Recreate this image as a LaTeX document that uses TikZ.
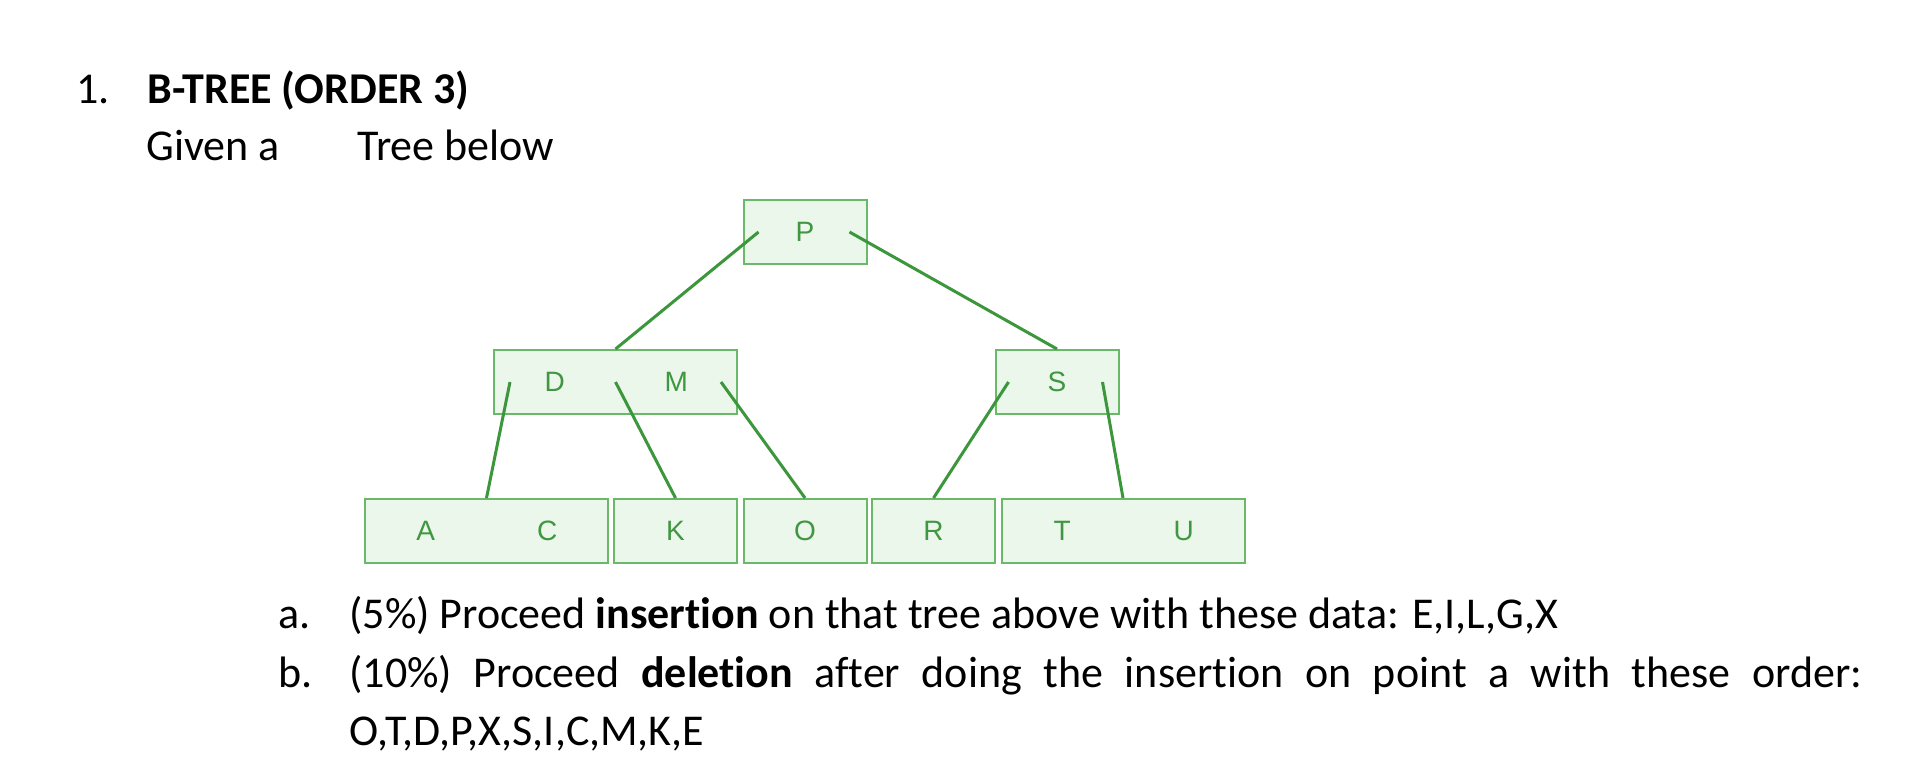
\documentclass[tikz,border=0pt]{standalone}
\usepackage{fontspec}
\setmainfont[Ligatures={NoCommon}]{Carlito}
\newfontfamily\treefont{Liberation Sans}
\usetikzlibrary{calc}
\definecolor{keygreen}{RGB}{65,150,65}
\definecolor{boxgreen}{RGB}{105,185,105}
\definecolor{boxfill}{RGB}{234,247,234}
\definecolor{linkgreen}{RGB}{60,150,60}
\newlength{\halfw}\setlength{\halfw}{60.75pt}
\newcommand{\twokeys}[2]{\makebox[\halfw]{#1}\makebox[\halfw]{#2}}

\begin{document}
\begin{tikzpicture}[x=0.5pt,y=-0.5pt,
    key/.style={draw=boxgreen,fill=boxfill,line width=1pt,inner sep=0pt,
                minimum width=61.5pt,minimum height=32pt,
                font=\treefont\fontsize{14}{14}\selectfont,text=keygreen},
    wide/.style={key,minimum width=121.5pt},
    link/.style={linkgreen,line width=1.5pt},
    txt/.style={anchor=base west,inner sep=0pt,font=\fontsize{22}{26}\selectfont}
]
  \useasboundingbox (0,0) rectangle (1914,773);

  % Heading
  \node[txt] (num) at (76,103) {1.};
  \node[txt] (title) at (147,103) {\textbf{B-TREE (ORDER 3)}};
  \node[txt] (given) at (146,160) {Given a};
  \node[txt] (below) at (357,160) {Tree below};

  % Tree
  \node[key] (p) at (805,232) {P};
  \node[wide] (dm) at (615.5,382) {\twokeys{D}{M}};
  \node[key] (s) at (1057,382) {S};
  \node[wide] (ac) at (486.5,531) {\twokeys{A}{C}};
  \node[key] (k) at (675.5,531) {K};
  \node[key] (o) at (805,531) {O};
  \node[key] (r) at (933.5,531) {R};
  \node[wide] (tu) at (1123,531) {\twokeys{T}{U}};

  \draw[link] ($(p.west)+(16,0)$) -- (dm.north);
  \draw[link] ($(p.east)+(-18,0)$) -- (s.north);
  \draw[link] ($(dm.west)+(17,0)$) -- (ac.north);
  \draw[link] (dm.center) -- (k.north);
  \draw[link] ($(dm.east)+(-17,0)$) -- (o.north);
  \draw[link] ($(s.west)+(14,0)$) -- (r.north);
  \draw[link] ($(s.east)+(-17,0)$) -- (tu.north);

  % Questions
  \node[txt] (la) at (278,628) {a.};
  \node[txt] (qa) at (349,628) {(5\%) Proceed \textbf{insertion} on that tree above with these data: E,I,L,G,X};
  \node[txt] (lb) at (278,687) {b.};
  \node[txt] (qb) at (349,687) {\makebox[756.5pt][s]{(10\%) Proceed \textbf{deletion} after doing the insertion on point a with these order:}};
  \node[txt] (qc) at (349,745) {O,T,D,P,X,S,I,C,M,K,E};
\end{tikzpicture}
\end{document}
